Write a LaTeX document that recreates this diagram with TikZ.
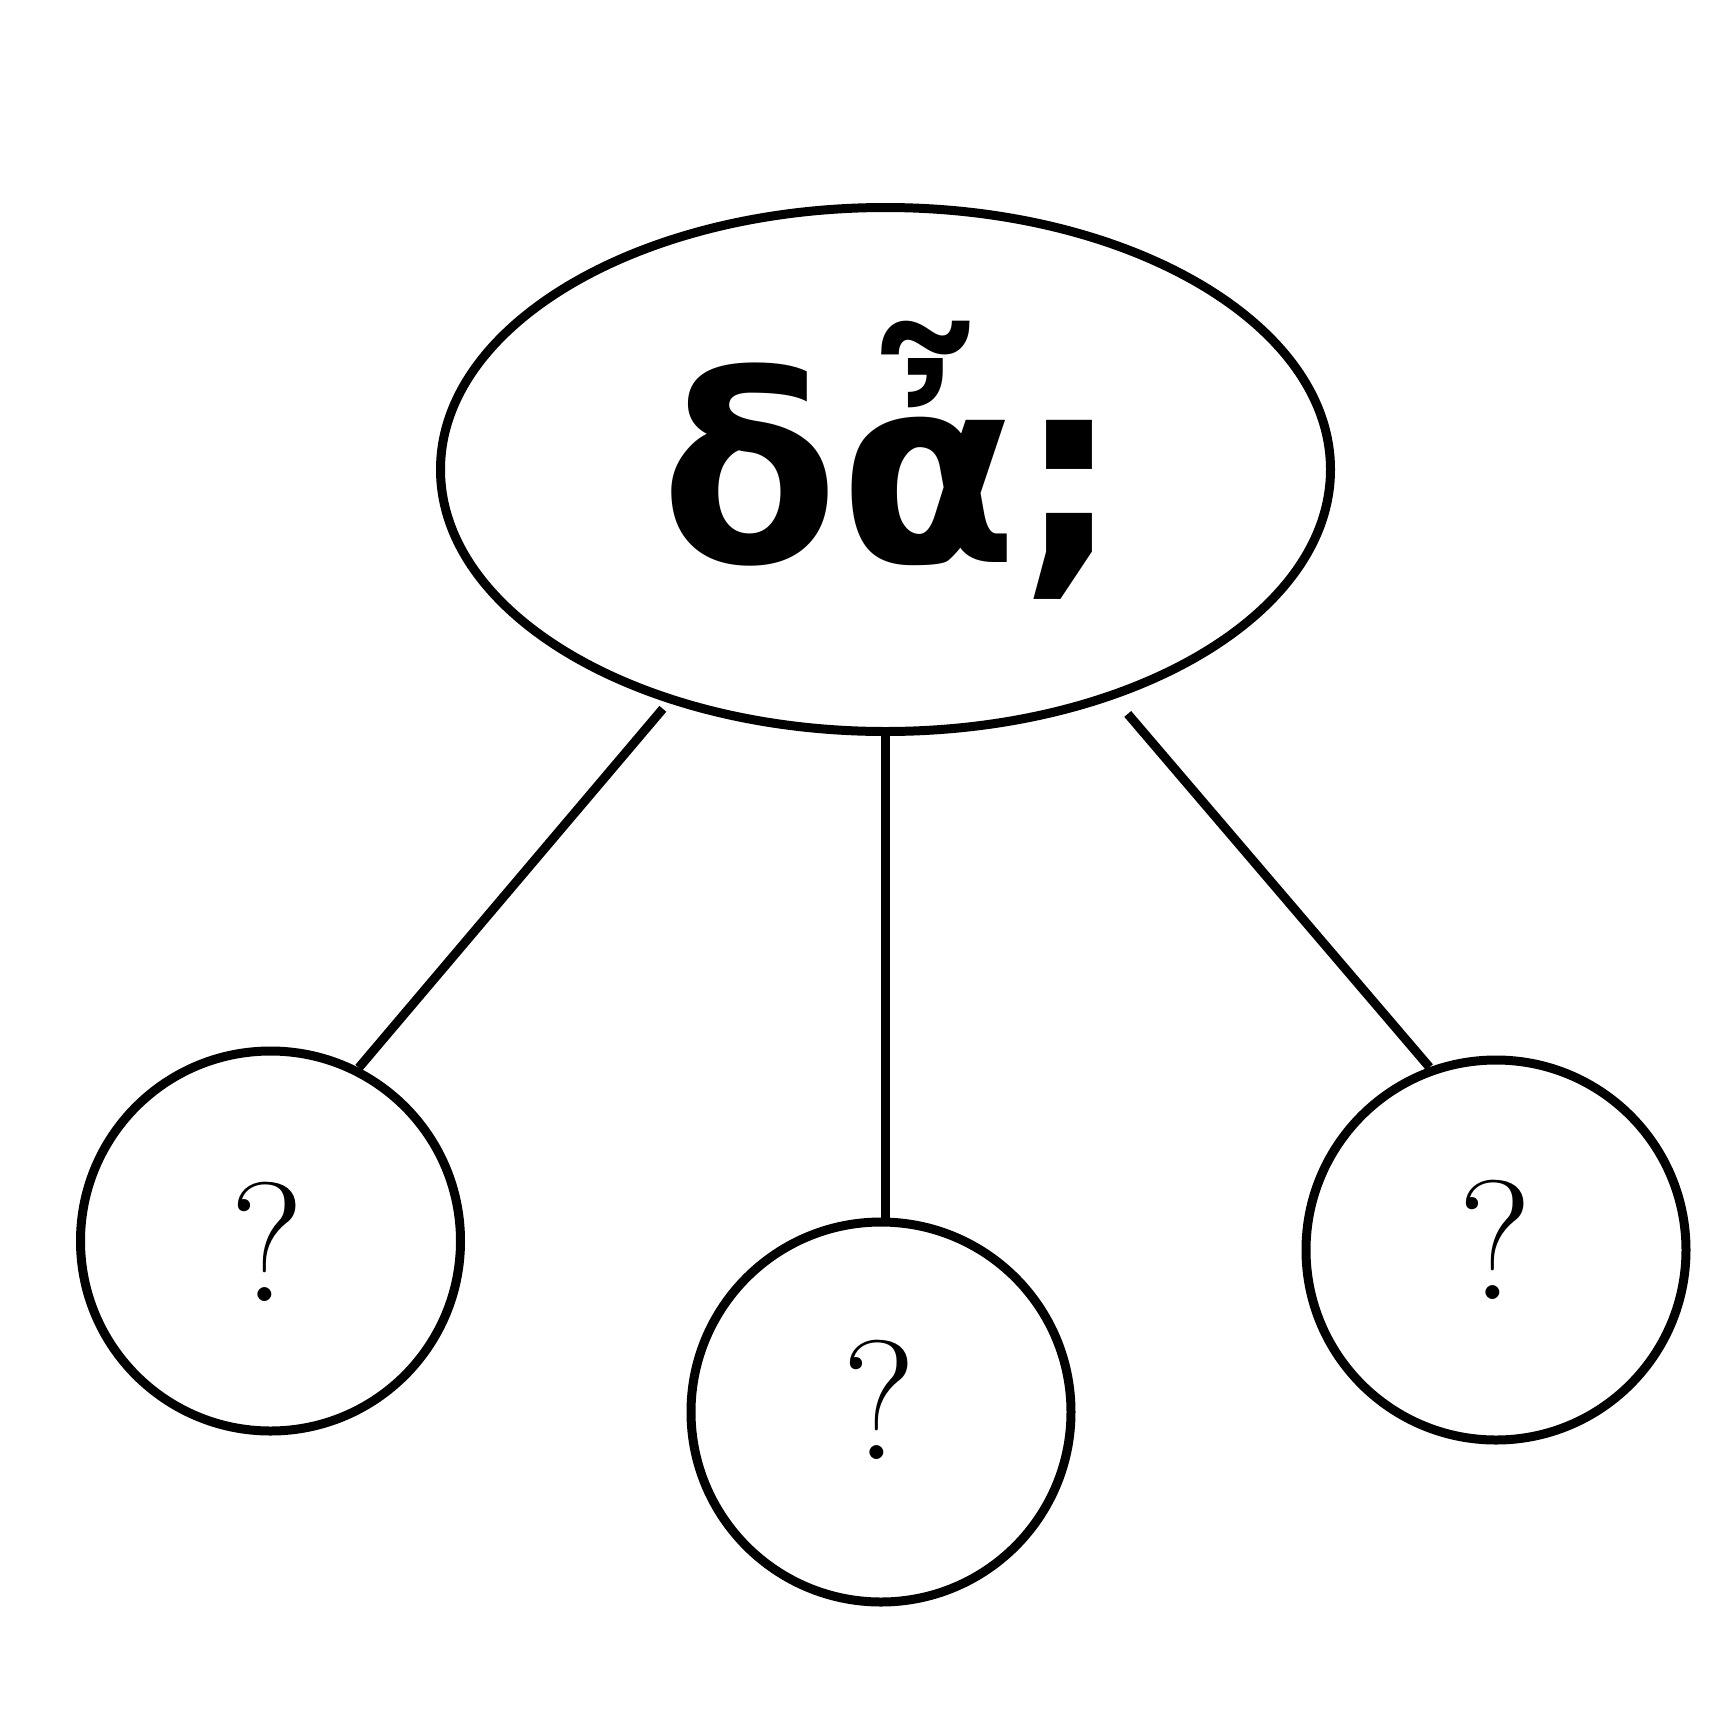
\documentclass[tikz,border=0pt]{standalone}
\usepackage{fontspec}
\usetikzlibrary{shapes.geometric}
\newfontfamily\greekfont{DejaVu Sans}
\begin{document}
\begin{tikzpicture}[x=0.5pt,y=-0.5pt,
  conn/.style={line width=4.5pt},
  bubble/.style={circle,draw,line width=4.5pt,minimum size=190pt,inner sep=0pt},
  qmark/.style={font=\fontsize{85}{95}\selectfont,inner sep=0pt}]
\useasboundingbox (0,0) rectangle (1736,1736);
\node[ellipse,draw,line width=4.5pt,minimum width=445pt,minimum height=262pt,inner sep=0pt] (e) at (885.5,469.5) {};
\node[font=\greekfont\bfseries\fontsize{130}{140}\selectfont,inner sep=0pt] (t) at (891,460) {δἆ;};
\node[bubble] (l) at (270.5,1241) {};
\node[qmark] (lq) at (267,1242) {?};
\node[bubble] (m) at (881,1412) {};
\node[qmark] (mq) at (879,1400) {?};
\node[bubble] (r) at (1496,1250) {};
\node[qmark] (rq) at (1495,1240) {?};
\draw[conn,shorten <=4pt] (e.227) -- (l.63);
\draw[conn] (e.south) -- (e.south |- m.north);
\draw[conn,shorten <=10pt] (e.315) -- (r.110);
\end{tikzpicture}
\end{document}
